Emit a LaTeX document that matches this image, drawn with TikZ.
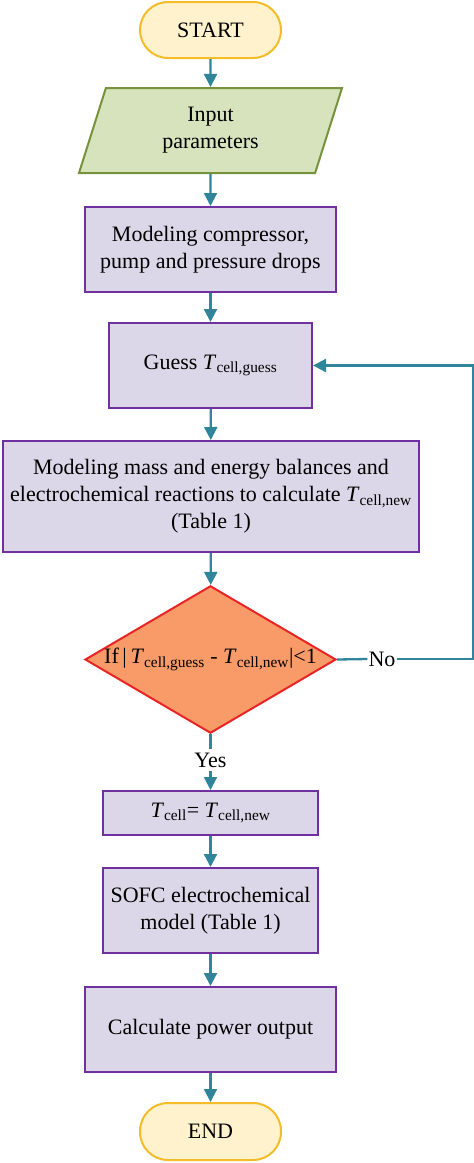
\documentclass[tikz,border=0pt]{standalone}
\usepackage{fontspec}
\setmainfont{Liberation Serif}
\usetikzlibrary{arrows.meta}
\usetikzlibrary{shapes.geometric}
\definecolor{startfill}{RGB}{255,242,204}
\definecolor{startline}{RGB}{244,188,40}
\definecolor{iofill}{RGB}{214,227,188}
\definecolor{ioline}{RGB}{118,146,60}
\definecolor{procfill}{RGB}{220,215,232}
\definecolor{procline}{RGB}{112,48,160}
\definecolor{decfill}{RGB}{248,155,105}
\definecolor{decline}{RGB}{232,36,36}
\definecolor{arrcol}{RGB}{49,133,155}
\newcommand{\Tc}[1]{\textit{T}\textsubscript{#1}}
\tikzset{
  every node/.style={font=\fontsize{22}{27}\selectfont, align=center},
  startstop/.style={draw=startline, fill=startfill, line width=2pt, rounded corners=28pt,
    minimum width=141pt, minimum height=56pt},
  iobox/.style={trapezium, trapezium left angle=63, trapezium right angle=117,
    trapezium stretches body, draw=ioline, fill=iofill, line width=2pt,
    minimum width=263pt, minimum height=85pt},
  process/.style={draw=procline, fill=procfill, line width=2pt, minimum height=85pt},
  decision/.style={diamond, aspect=1.7, inner sep=0pt, draw=decline, fill=decfill, line width=2pt,
    minimum width=251pt, minimum height=147pt},
  arr/.style={draw=arrcol, line width=2.3pt, -{Triangle[width=13pt,length=13pt]}},
  ln/.style={draw=arrcol, line width=2.3pt}
}
\begin{document}
\begin{tikzpicture}[x=1pt,y=-1pt]
  \useasboundingbox (0,0) rectangle (474,1163);
  \node [startstop] (start) at (210.5,30) {START};
  \node [iobox] (input) at (210.5,130.5) {Input\\parameters};
  \node [process, minimum width=251pt] (comp) at (210.5,249.5) {Modeling compressor,\\pump and pressure drops};
  \node [process, minimum width=203pt] (guess) at (210.5,365.5) {Guess \Tc{cell,guess}};
  \node [process, minimum width=416pt, minimum height=111pt, inner sep=1pt] (mass) at (211,496.5)
     {Modeling mass and energy balances and\\electrochemical reactions to calculate \Tc{cell,new}\\(Table 1)};
  \node [decision] (dec) at (210.5,659.5) {If\,|\,\Tc{cell,guess} - \Tc{cell,new}|<1};
  \node (yes) at (210.5,760) {Yes};
  \node [inner sep=1pt] (no) at (382,659) {No};
  \node [process, minimum width=215pt, minimum height=44pt] (tcell) at (210.5,813) {\Tc{cell}= \Tc{cell,new}};
  \node [process, minimum width=215pt] (sofc) at (210.5,910.5) {SOFC electrochemical\\model (Table 1)};
  \node [process, minimum width=251pt] (power) at (210.5,1029.5) {Calculate power output};
  \node [startstop, minimum height=57pt] (stop) at (210.5,1131.5) {END};

  \draw [arr] (start) -- (input);
  \draw [arr] (input) -- (comp);
  \draw [arr] (comp) -- (guess);
  \draw [arr] (guess) -- (mass);
  \draw [arr] (mass) -- (dec);
  \draw [ln] (dec.south) -- (yes.north);
  \draw [arr] (yes.south) -- (tcell.north);
  \draw [arr] (tcell) -- (sofc);
  \draw [arr] (sofc) -- (power);
  \draw [arr] (power) -- (stop);
  \draw [ln] (dec.east) -- (no.west);
  \draw [arr] (no.east) -- ++(77,0) |- (guess.east);
\end{tikzpicture}
\end{document}
